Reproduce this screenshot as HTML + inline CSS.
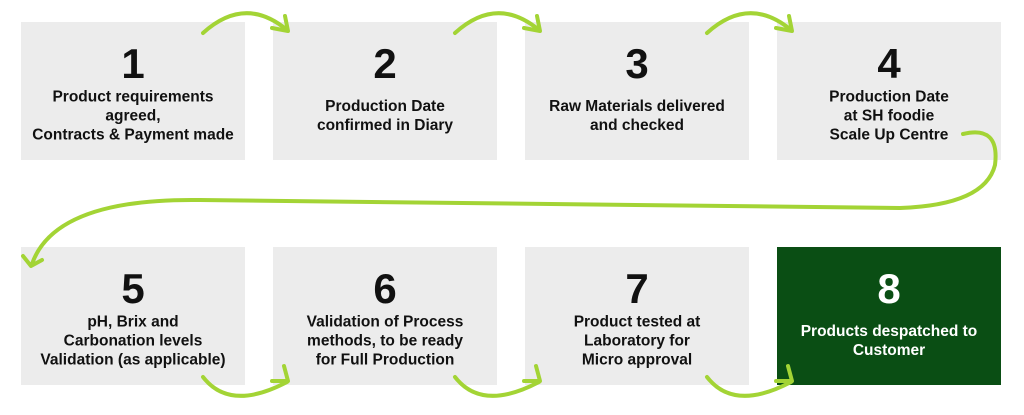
<!DOCTYPE html>
<html><head><style>
body{margin:0;width:1024px;height:415px;background:#fff;position:relative;overflow:hidden;font-family:"Liberation Sans",sans-serif}
.b{position:absolute;width:224px;height:138px;background:#ececec;color:#111}
.n{position:absolute;left:0;right:0;top:19px;text-align:center;font-size:42px;font-weight:bold;line-height:46px}
.t{position:absolute;left:-10px;right:-10px;top:94px;transform:translateY(-50%);text-align:center;font-size:15.5px;font-weight:bold;line-height:19px}
.g{background:#0a4e14;color:#fff}
svg{position:absolute;left:0;top:0}
</style></head><body>
<div class="b" style="left:21px;top:22px"><div class="n">1</div><div class="t">Product requirements<br>agreed,<br>Contracts &amp; Payment made</div></div>
<div class="b" style="left:273px;top:22px"><div class="n">2</div><div class="t">Production Date<br>confirmed in Diary</div></div>
<div class="b" style="left:525px;top:22px"><div class="n">3</div><div class="t">Raw Materials delivered<br>and checked</div></div>
<div class="b" style="left:777px;top:22px"><div class="n">4</div><div class="t">Production Date<br>at SH foodie<br>Scale Up Centre</div></div>
<div class="b" style="left:21px;top:247px"><div class="n">5</div><div class="t">pH, Brix and<br>Carbonation levels<br>Validation (as applicable)</div></div>
<div class="b" style="left:273px;top:247px"><div class="n">6</div><div class="t">Validation of Process<br>methods, to be ready<br>for Full Production</div></div>
<div class="b" style="left:525px;top:247px"><div class="n">7</div><div class="t">Product tested at<br>Laboratory for<br>Micro approval</div></div>
<div class="b g" style="left:777px;top:247px"><div class="n">8</div><div class="t">Products despatched to<br>Customer</div></div>
<svg width="1024" height="415" fill="none" stroke="#a3d435" stroke-width="4" stroke-linecap="round" stroke-linejoin="round">
<g id="ta"><path d="M203 33 Q245 -5 287 30"/><path d="M272 28 L288 31 L285 16"/></g>
<use href="#ta" x="252"/><use href="#ta" x="504"/>
<g id="ba"><path d="M203 377 Q230 412 287 382"/><path d="M272 381 L288 381 L284 366"/></g>
<use href="#ba" x="252"/><use href="#ba" x="504"/>
<path d="M963 134 Q1000 125 995 165 Q985 205 900 208 L200 200 Q55 198 32 264"/>
<path d="M23 256 L31 266 L42 260"/>
</svg>
</body></html>
